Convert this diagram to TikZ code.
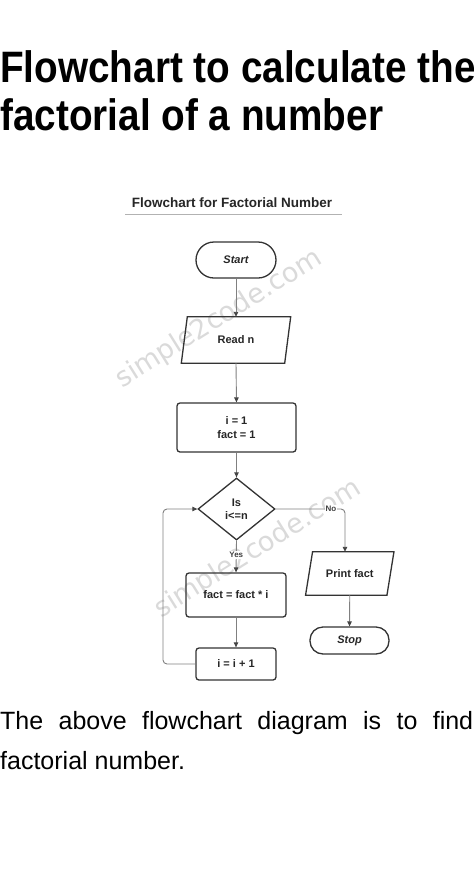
\documentclass[tikz,border=0pt]{standalone}
\usepackage{fontspec}
\setmainfont{Liberation Sans}
\newfontfamily\wmfont{DejaVu Sans}
\usetikzlibrary{arrows.meta,shapes.geometric}
\definecolor{boxline}{HTML}{333333}
\definecolor{connline}{HTML}{808080}
\definecolor{tipcol}{HTML}{444444}
\definecolor{wmcol}{HTML}{DADADA}
\tikzset{
  shp/.style={draw=boxline, line width=1.3pt},
  boxtext/.style={font=\fontsize{11}{14}\selectfont\bfseries, text=black!85, align=center, inner sep=0pt},
  procbox/.style={shp, rounded corners=3pt, boxtext},
  termbox/.style={shp, boxtext, font=\fontsize{11}{14}\selectfont\bfseries\itshape},
  iobox/.style={boxtext},
  conn/.style={draw=connline, line width=0.9pt, -{Triangle[length=5pt,width=4.5pt,fill=tipcol,color=tipcol]}},
  lbl/.style={font=\fontsize{8}{9}\selectfont\bfseries, text=black!75, fill=white, inner sep=1pt},
  wmark/.style={font=\wmfont\fontsize{27}{30}\selectfont, text=wmcol, rotate=32}
}
\begin{document}
\begin{tikzpicture}[x=1pt,y=-1pt]
\useasboundingbox (0,0) rectangle (474,892);
\fill[white] (0,0) rectangle (474,892);

% headline
\node[anchor=base west, inner sep=0pt] (t1) at (0,82)
  {\scalebox{0.88}[1]{\fontsize{44}{48}\selectfont\bfseries Flowchart to calculate the}};
\node[anchor=base west, inner sep=0pt] (t2) at (0,130)
  {\scalebox{0.88}[1]{\fontsize{44}{48}\selectfont\bfseries factorial of a number}};

% watermarks
\node[wmark] (wm1) at (219,319) {simple2code.com};
\node[wmark] (wm2) at (258,549) {simple2code.com};

% subtitle
\node[anchor=base, inner sep=0pt, font=\fontsize{13.5}{15}\selectfont\bfseries, text=black!85] (sub) at (232,207) {Flowchart for Factorial Number};
\coordinate (ul1) at (125,214);
\coordinate (ul2) at (342,214);
\draw[color=black!30, line width=0.8pt] (ul1) -- (ul2);

% nodes
\node[termbox, rounded corners=18pt, minimum width=80pt, minimum height=36pt] (start) at (236,260) {Start};
\node[iobox, minimum width=103pt, minimum height=46pt] (read) at (236,340) {Read n};
\draw[shp] ([xshift=3pt]read.north west) -- ([xshift=3pt]read.north east) -- ([xshift=-3pt]read.south east) -- ([xshift=-3pt]read.south west) -- cycle;
\node[procbox, minimum width=119pt, minimum height=49pt] (init) at (236.5,427.5) {i = 1\\fact = 1};
\node[shp, boxtext, diamond, aspect=1.24, minimum width=77pt, minimum height=62pt, font=\fontsize{11}{12.5}\selectfont\bfseries] (dia) at (236.5,509) {Is\\i<=n};
\node[procbox, minimum width=100pt, minimum height=44pt] (mul) at (236,595) {fact = fact * i};
\node[procbox, minimum width=80pt, minimum height=32pt] (inc) at (236,664) {i = i + 1};
\node[iobox, minimum width=81pt, minimum height=43pt] (print) at (349.75,573.5) {Print fact};
\draw[shp] ([xshift=3.5pt]print.north west) -- ([xshift=3.5pt]print.north east) -- ([xshift=-3.5pt]print.south east) -- ([xshift=-3.5pt]print.south west) -- cycle;
\node[termbox, rounded corners=13pt, minimum width=79pt, minimum height=27pt] (stop) at (349.5,640.5) {Stop};

% connectors
\draw[conn] (start.south) -- (read.north);
\draw[conn] (read.south) -- (init.north);
\draw[conn] (init.south) -- (dia.north);
\draw[conn] (dia.south) -- node[lbl, pos=0.45] (yes) {Yes} (mul.north);
\draw[conn] (mul.south) -- (inc.north);
\coordinate (lx) at (163,0);
\draw[conn, rounded corners=4pt] (inc.west) -- (inc.west -| lx) |- (dia.west);
\coordinate (nx) at ([xshift=-4.75pt]print.north);
\draw[conn, rounded corners=4pt] (dia.east) -| (nx);
\node[lbl] (no) at (331,508.5) {No};
\draw[conn] (print.south) -- (stop.north);

% bottom text
\node[anchor=base west, inner sep=0pt, font=\fontsize{25}{30}\selectfont] (b1) at (0,729)
  {\makebox[473pt][s]{The above flowchart diagram is to find}};
\node[anchor=base west, inner sep=0pt, font=\fontsize{25}{30}\selectfont] (b2) at (0,769)
  {factorial number.};
\end{tikzpicture}
\end{document}
